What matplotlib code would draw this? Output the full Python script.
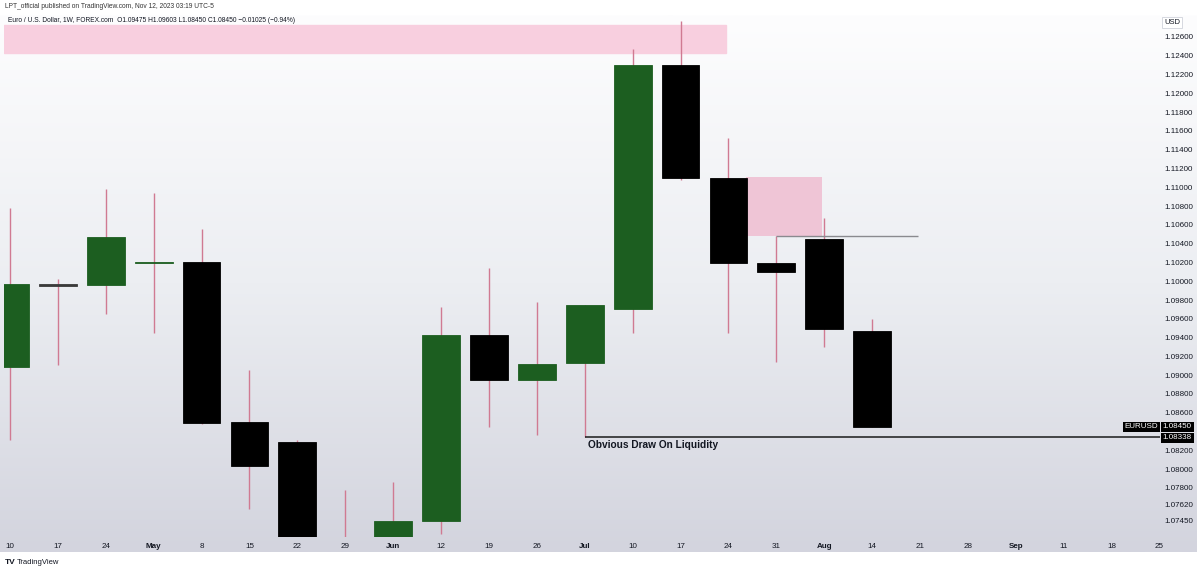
import matplotlib.pyplot as plt
import numpy as np
from matplotlib.colors import LinearSegmentedColormap
from matplotlib.transforms import blended_transform_factory

plt.rcParams['font.family'] = ['Liberation Sans', 'DejaVu Sans']

# weekly candles, Apr 10 .. Aug 14 2023
opens  = [1.0909, 1.0997, 1.0996, 1.1019, 1.1020, 1.0850, 1.0829, 1.0723, 1.0708, 1.0745,
          1.0943, 1.0895, 1.0913, 1.0970, 1.1230, 1.1110, 1.1019, 1.1045, 1.09475]
closes = [1.0997, 1.0995, 1.1047, 1.1020, 1.0849, 1.0803, 1.0723, 1.0708, 1.0745, 1.0943,
          1.0895, 1.0912, 1.0975, 1.1230, 1.1110, 1.1019, 1.1010, 1.0949, 1.08450]
highs  = [1.1078, 1.1002, 1.1098, 1.1094, 1.1056, 1.0906, 1.0831, 1.0778, 1.0786, 1.0973,
          1.1014, 1.0978, 1.0975, 1.1247, 1.1277, 1.1152, 1.1048, 1.1067, 1.09603]
lows   = [1.0831, 1.0911, 1.0965, 1.0945, 1.0848, 1.0758, 1.0703, 1.0635, 1.0673, 1.0731,
          1.0845, 1.0836, 1.0834, 1.0945, 1.1108, 1.0945, 1.0914, 1.0930, 1.08450]

week_labels = ['10', '17', '24', 'May', '8', '15', '22', '29', 'Jun', '12', '19', '26', 'Jul',
               '10', '17', '24', '31', 'Aug', '14', '21', '28', 'Sep', '11', '18', '25']
month_labels = ['May', 'Jun', 'Jul', 'Aug', 'Sep']

price_ticks = [1.126, 1.124, 1.122, 1.120, 1.118, 1.116, 1.114, 1.112, 1.110, 1.108, 1.106,
               1.104, 1.102, 1.100, 1.098, 1.096, 1.094, 1.092, 1.090, 1.088, 1.086, 1.082,
               1.080, 1.078, 1.0762, 1.0745]

# zones / levels
top_zone = (1.12430, 1.12728)
mid_zone = (1.10481, 1.11113)
mid_zone_x = (15.37, 16.96)
level_high = 1.10481
level_low = 1.08338
last_price = 1.08450

fig = plt.figure(figsize=(12, 5.7), dpi=100)
fig.patch.set_facecolor('white')

# gradient background
bg = fig.add_axes([0, 1 - 552 / 570, 1197 / 1200, (552 - 15) / 570])
cmap = LinearSegmentedColormap.from_list('bg', ['#fdfdfe', '#eceef2', '#d3d4de'])
bg.imshow(np.linspace(0, 1, 256).reshape(-1, 1), aspect='auto', cmap=cmap,
          extent=[0, 1, 0, 1], origin='upper')
bg.axis('off')

ax = fig.add_axes([4 / 1200, 1 - 537 / 570, 1156 / 1200, (537 - 15) / 570])
ax.patch.set_alpha(0)
ax.set_xlim(-0.125, 24.01)
ax.set_ylim(1.07277, 1.12834)

x = np.arange(len(opens))
wick_col = '#d07a92'
ax.vlines(x, lows, highs, color=wick_col, lw=1, zorder=2)
for i in range(len(opens)):
    o, c = opens[i], closes[i]
    col = '#1c5e20' if c >= o else '#000000'
    if abs(c - o) < 0.0003 and c < o:
        col = '#3a3a3a'
    h = max(abs(c - o), 0.00014)
    ax.bar(i, h, bottom=min(o, c), width=0.79, color=col, edgecolor=col, lw=0.6, zorder=3)

# zones
ax.axhspan(top_zone[0], top_zone[1], xmin=0, xmax=(14.94 + 0.125) / 24.135,
           color='#f8cfdf', zorder=1)
ax.fill_between(mid_zone_x, mid_zone[0], mid_zone[1], color='#efc5d6', lw=0, zorder=1)

# levels
ax.hlines(level_high, 16, 18.96, color='#8a8a8f', lw=1, zorder=4)
ax.hlines(level_low, 12, 24.01, color='#1a1a1a', lw=1.1, zorder=4)
ax.text(12.06, level_low - 0.0003, 'Obvious Draw On Liquidity', fontsize=7.3,
        fontweight='bold', color='#131722', va='top', ha='left', zorder=5)

for s in ax.spines.values():
    s.set_visible(False)

ax.yaxis.tick_right()
ax.set_yticks(price_ticks)
ax.set_yticklabels(['%.5f' % p for p in price_ticks])
ax.tick_params(axis='y', length=0, pad=3, labelsize=5.8, labelcolor='#131722')
ax.set_xticks(range(len(week_labels)))
ax.set_xticklabels(week_labels)
ax.tick_params(axis='x', length=0, pad=4, labelsize=5.8, labelcolor='#131722')
for lbl in ax.get_xticklabels():
    if lbl.get_text() in month_labels:
        lbl.set_fontweight('bold')

# price labels on the axis
tr = blended_transform_factory(ax.transAxes, ax.transData)
ax.text(1.0025, last_price, '1.08450', transform=tr, fontsize=5.8, color='white',
        va='center', ha='left', bbox=dict(fc='black', ec='none', pad=1.2), zorder=6)
ax.text(0.9985, last_price, 'EURUSD', transform=tr, fontsize=5.8, color='white',
        va='center', ha='right', bbox=dict(fc='black', ec='none', pad=1.2), zorder=6)
ax.text(1.0025, level_low - 0.00005, '1.08338', transform=tr, fontsize=5.8, color='white',
        va='center', ha='left', bbox=dict(fc='black', ec='none', pad=1.2), zorder=6)
ax.text(1.0035, 0.985, 'USD', transform=ax.transAxes, fontsize=5.5, color='#131722',
        va='center', ha='left', bbox=dict(fc='white', ec='#d0d3db', lw=0.6, pad=1.5))

# header texts
fig.text(5 / 1200, 1 - 7 / 570, 'LPT_official published on TradingView.com, Nov 12, 2023 03:19 UTC-5',
         fontsize=4.8, color='#333333', va='center', ha='left')
fig.text(8 / 1200, 1 - 20 / 570,
         'Euro / U.S. Dollar, 1W, FOREX.com  O1.09475 H1.09603 L1.08450 C1.08450 \u22120.01025 (\u22120.94%)',
         fontsize=4.8, color='#131722', va='center', ha='left')
fig.text(5 / 1200, 1 - 562 / 570, 'TV', fontsize=6, fontweight='bold', color='#131722',
         va='center', ha='left')
fig.text(17 / 1200, 1 - 562 / 570, 'TradingView', fontsize=5.5, color='#131722',
         va='center', ha='left')

fig.savefig('out.png', dpi=100)
